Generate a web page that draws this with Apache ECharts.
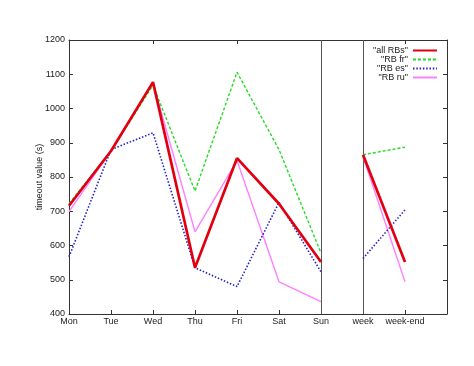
<!DOCTYPE html>
<html><head><meta charset="utf-8">
<script src="https://cdn.jsdelivr.net/npm/echarts@6/dist/echarts.min.js"></script>
<style>html,body{margin:0;padding:0;background:#fff}#c{width:474px;height:366px}</style>
</head><body><div id="c"></div>
<script>
const categories = ['Mon','Tue','Wed','Thu','Fri','Sat','Sun','week','week-end',''];
const weekdayCount = 7;
const allRBs = [716, 876, 1077, 535, 855, 722, 552, 865, 552];
const rbFr   = [722, 876, 1068, 759, 1106, 880, 578, 865, 887];
const rbEs   = [567, 880, 929, 535, 480, 726, 523, 562, 704];
const rbRu   = [699, 876, 1075, 640, 848, 494, 436, 860, 494];
const yTicks = [400, 1200, 100];
const seriesNames = ['"all RBs"', '"RB fr"', '"RB es"', '"RB ru"'];

const styles = [
  {color:'#e00010', width:2.7, type:'solid'},
  {color:'#22dd22', width:1.4, type:[3,2]},
  {color:'#2222cc', width:1.6, type:[1.5,1.8]},
  {color:'#ff80ff', width:1.4, type:'solid'}
];
const vals = [allRBs, rbFr, rbEs, rbRu];
const font = 'Liberation Sans, Arial, sans-serif';
const series = [];
vals.forEach((v, i) => {
  const wd = v.slice(0, weekdayCount);
  const we = categories.map((c, k) => (k >= weekdayCount && k < v.length) ? v[k] : null);
  const base = {type:'line', name:seriesNames[i], symbol:'none', showSymbol:false, color:styles[i].color,
    lineStyle:{color:styles[i].color, width:styles[i].width, type:styles[i].type},
    z: 10 - i, animation:false};
  series.push(Object.assign({}, base, {data: wd}));
  series.push(Object.assign({}, base, {data: we, connectNulls:false}));
});
series[0].markLine = {silent:true, symbol:'none', label:{show:false},
  lineStyle:{color:'#555', width:1, type:'solid'},
  data:[{xAxis:'Sun'},{xAxis:'week'}]};

const chart = echarts.init(document.getElementById('c'));
chart.setOption({
  animation:false,
  grid:{left:69, right:27, top:40, bottom:52},
  legend:{data:seriesNames, orient:'vertical', align:'right', right:31, top:41,
    itemWidth:24, itemHeight:10, itemGap:0,
    itemStyle:{opacity:0},
    textStyle:{fontFamily:font, fontSize:9, color:'#222', padding:[0,0,0,0]}},
  xAxis:[
    {type:'category', data:categories, boundaryGap:false,
     axisLine:{lineStyle:{color:'#333', width:1}},
     axisTick:{inside:true, length:4, alignWithLabel:true, lineStyle:{color:'#333'}},
     axisLabel:{fontFamily:font, fontSize:9, color:'#222', margin:3, interval:0},
     splitLine:{show:false}},
    {type:'category', data:categories, boundaryGap:false, position:'top',
     axisLine:{lineStyle:{color:'#333', width:1}},
     axisTick:{inside:true, length:4, lineStyle:{color:'#333'}},
     axisLabel:{show:false}, splitLine:{show:false}}
  ],
  yAxis:[
    {type:'value', min:yTicks[0], max:yTicks[1], interval:yTicks[2],
     name:'timeout value (s)', nameLocation:'middle', nameGap:25, nameMoveOverlap:false,
     nameTextStyle:{fontFamily:font, fontSize:9, color:'#222'},
     axisLine:{show:true, lineStyle:{color:'#333', width:1}},
     axisTick:{show:true, inside:true, length:4, lineStyle:{color:'#333'}},
     axisLabel:{fontFamily:font, fontSize:9, color:'#222', margin:4, formatter: v => String(v)},
     splitLine:{show:false}},
    {type:'value', min:yTicks[0], max:yTicks[1], interval:yTicks[2], position:'right',
     axisLine:{show:true, lineStyle:{color:'#333', width:1}},
     axisTick:{show:true, inside:true, length:4, lineStyle:{color:'#333'}},
     axisLabel:{show:false}, splitLine:{show:false}}
  ],
  series: series
});
</script></body></html>
